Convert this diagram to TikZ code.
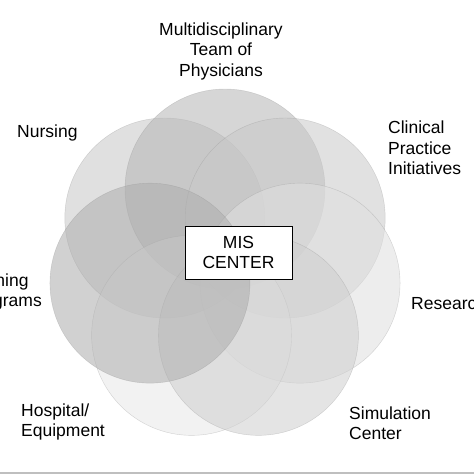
\documentclass[tikz,border=0pt]{standalone}
\usepackage{fontspec}
\setmainfont{Liberation Sans}
\usepackage{tikz}
\usetikzlibrary{calc}
\usetikzlibrary{positioning}

\tikzset{
  petal/.style={circle, minimum size=200pt, inner sep=0pt, fill opacity=0.55, draw=black!45, draw opacity=0.35, line width=0.4pt},
  lbl/.style={inner sep=0pt, font=\fontsize{17.5}{20.5}\selectfont},
  hubbox/.style={draw=black, fill=white, line width=0.9pt, minimum width=107pt, minimum height=53pt, align=center, font=\fontsize{17.5}{20.5}\selectfont}
}

\begin{document}
\begin{tikzpicture}[x=1pt, y=-1pt]
    \useasboundingbox (0,0) rectangle (474,474);
    \clip (0,0) rectangle (474,474);
    \fill[white] (0,0) rectangle (474,474);
    \coordinate (ring) at (225,266);

    % Overlapping circles
    \foreach \name/\ang/\shade in {nursing/141.43/22, team/90/29, clinical/38.57/21,
        research/-12.86/12, hospital/-115.71/9, simulation/-64.29/19, training/-167.14/32}
      \node[petal, fill=black!\shade] (\name) at ($(ring)+(\ang:77pt)$) {};

    % Centre box
    \node[hubbox] (mis) at (238.5,252.5) {MIS\\CENTER};

    % Labels
    \node[lbl, align=center] (teamlbl) at (221,51) {Multidisciplinary\\Team of\\Physicians};
    \node[lbl, anchor=west] (nursinglbl) at (17,133) {Nursing};
    \node[lbl, align=left, anchor=west] (clinicallbl) at (388,148) {Clinical\\Practice\\Initiatives};
    \node[lbl, anchor=west] (researchlbl) at (411,303) {Research};
    \node[lbl, align=left, anchor=east] (traininglbl) at (42,292) {Training\\Programs};
    \node[lbl, align=left, anchor=west] (hospitallbl) at (21,422) {Hospital/\\Equipment};
    \node[lbl, align=left, anchor=west] (simulationlbl) at (349,423) {Simulation\\Center};

    % Bottom strip
    \fill[black!25] (0,472) rectangle (474,474);
  \end{tikzpicture}
\end{document}
